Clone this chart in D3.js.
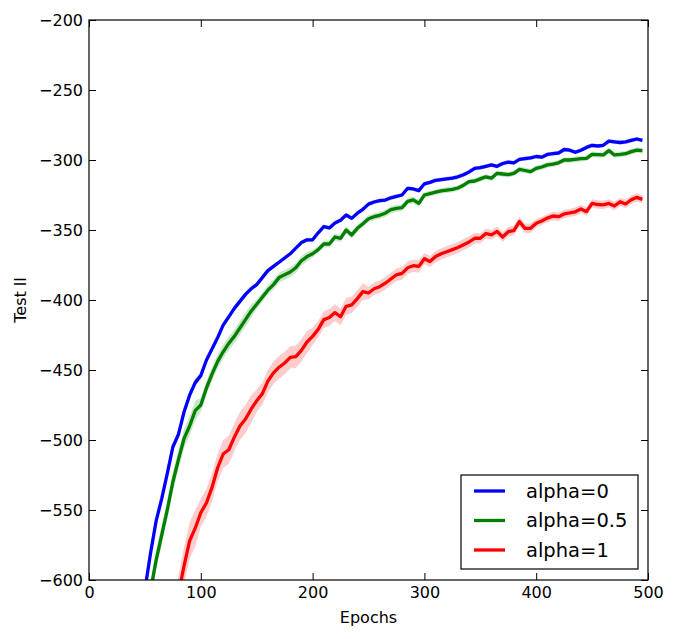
<!DOCTYPE html>
<html>
<head>
<meta charset="utf-8">
<script src="https://cdn.jsdelivr.net/npm/d3@7"></script>
<style>
  body { margin: 0; background: #fff; }
  text { font-family: "DejaVu Sans", sans-serif; }
</style>
</head>
<body>
<svg id="chart" width="676" height="639"></svg>
<script>
// epochs 40..495, every 5
const epochs = d3.range(40, 500, 5);

const alpha0 = [
  -700, -650, -607, -581, -558, -542, -524, -505, -496, -480,
  -468, -459, -454, -443, -435, -427, -418, -412, -406, -401,
  -396, -392, -389, -384, -379, -376, -373, -370, -367, -363,
  -359, -357, -357, -352, -347.6, -348.5, -345, -343, -339.3, -341.7,
  -338, -335.2, -331.5, -330, -329, -328.6, -327, -326, -325, -320.2,
  -320.7, -321.9, -317, -316, -314.5, -314, -313.5, -313, -312, -310.5,
  -308.5, -306, -305.5, -304.5, -303.5, -304.5, -302.5, -301.5, -302, -299.5,
  -299, -298.5, -297.5, -298, -296, -295.5, -295, -292.5, -293, -294.5,
  -293, -291, -289.5, -290, -289.5, -286.5, -287, -287.5, -287, -286,
  -285, -286
];

const alpha05 = [
  -760, -700, -650, -608, -586, -568, -550, -530, -514, -499,
  -490, -479, -475, -463, -453, -444, -437, -431, -426, -420,
  -414, -408, -403, -398, -393, -389, -384, -382, -380, -377,
  -372, -369, -367, -364, -360, -360, -355, -356, -350, -353.5,
  -348.8, -345.5, -342, -340.5, -339.5, -338, -335.5, -334.5, -334, -329.5,
  -328.5, -331, -325, -324, -323, -322, -321.5, -321, -320, -318,
  -315.5, -315, -313.5, -312, -313, -309.5, -310, -310.5, -309.5, -306.7,
  -307.5, -308.3, -306, -305, -303.5, -303, -302, -300, -300, -299.5,
  -299, -298.8, -296, -296.2, -296.4, -293.3, -296.4, -296, -295.5, -294,
  -293, -293.3
];

const alpha1 = [
  -860, -820, -785, -750, -720, -690, -660, -635, -610, -590,
  -572, -563, -552, -545, -534, -520, -510, -507, -498, -490,
  -485, -478, -472, -467, -458, -452, -448, -445, -441, -440.5,
  -436, -430, -426, -421, -414, -412.5, -409, -412, -404.5, -403.5,
  -399, -394, -395, -392, -390.5, -388, -385, -382, -381, -377,
  -375.5, -376, -370.5, -372.5, -369, -367, -365.5, -364, -362.5, -360.5,
  -358.5, -355.9, -355.9, -352.5, -353.5, -351, -355, -351.2, -350.5, -344,
  -348.8, -348.8, -345.2, -343.5, -341.5, -340, -340.5, -338.5, -337.8, -337,
  -335, -336.9, -331, -331.8, -332, -331, -332.9, -329.8, -331.4, -328.4,
  -326.7, -328.1
];

// half width of the shaded band, one value per 50 epochs
const spread0 = [3, 3, 2, 1.5, 1.5, 1.5, 1.5, 1.5, 1.5, 1.5];
const spread05 = [7, 7, 5, 3.5, 2.5, 2.5, 2, 2, 2, 2];
const spread1 = [13, 13, 10, 8, 6, 4.5, 4, 3.5, 3, 3];

const names = ["alpha=0", "alpha=0.5", "alpha=1"];
const colors = ["#0000ff", "#008000", "#ff0000"];
const xTicks = [0, 100, 200, 300, 400, 500];
const yTicks = [-600, -550, -500, -450, -400, -350, -300, -250, -200];

const series = [
  { name: names[0], color: colors[0], values: alpha0, spread: spread0 },
  { name: names[1], color: colors[1], values: alpha05, spread: spread05 },
  { name: names[2], color: colors[2], values: alpha1, spread: spread1 }
];

const margin = { top: 20, right: 28, bottom: 59, left: 89 };
const width = 676 - margin.left - margin.right;
const height = 639 - margin.top - margin.bottom;

const svg = d3.select("#chart");
const g = svg.append("g").attr("transform", `translate(${margin.left},${margin.top})`);

const x = d3.scaleLinear().domain([0, 500]).range([0, width]);
const y = d3.scaleLinear().domain([-600, -200]).range([height, 0]);

g.append("clipPath").attr("id", "clip")
  .append("rect").attr("width", width).attr("height", height);

const plot = g.append("g").attr("clip-path", "url(#clip)");

const line = d3.line()
  .x((d, i) => x(epochs[i]))
  .y(d => y(d));

const band = s => d3.area()
  .x((d, i) => x(epochs[i]))
  .y0((d, i) => y(d - s.spread[Math.min(9, Math.floor(epochs[i] / 50))]))
  .y1((d, i) => y(d + s.spread[Math.min(9, Math.floor(epochs[i] / 50))]));

series.forEach(s => {
  plot.append("path")
    .attr("d", band(s)(s.values))
    .attr("fill", s.color)
    .attr("fill-opacity", 0.2)
    .attr("stroke", "none");
});

series.forEach(s => {
  plot.append("path")
    .attr("d", line(s.values))
    .attr("fill", "none")
    .attr("stroke", s.color)
    .attr("stroke-width", 3.3)
    .attr("stroke-linejoin", "round");
});

// axes, ticks pointing inwards on all four sides
const fmt = d3.format("d");

g.append("g")
  .attr("transform", `translate(0,${height})`)
  .call(d3.axisBottom(x).tickValues(xTicks).tickFormat(fmt).tickSizeInner(-7).tickSizeOuter(0).tickPadding(7));

g.append("g")
  .call(d3.axisLeft(y).tickValues(yTicks).tickFormat(fmt).tickSizeInner(-7).tickSizeOuter(0).tickPadding(6));

g.append("g")
  .call(d3.axisTop(x).tickValues(xTicks).tickFormat("").tickSizeInner(-7).tickSizeOuter(0));

g.append("g")
  .attr("transform", `translate(${width},0)`)
  .call(d3.axisRight(y).tickValues(yTicks).tickFormat("").tickSizeInner(-7).tickSizeOuter(0));

g.selectAll(".domain").remove();
g.selectAll(".tick line").attr("stroke", "#000").attr("stroke-width", 1);
g.selectAll(".tick text").attr("font-size", 16).attr("fill", "#000")
  .attr("font-family", "DejaVu Sans");

g.append("rect")
  .attr("width", width)
  .attr("height", height)
  .attr("fill", "none")
  .attr("stroke", "#000")
  .attr("stroke-width", 1.2);

// axis labels
svg.append("text")
  .attr("x", margin.left + width / 2)
  .attr("y", 623)
  .attr("text-anchor", "middle")
  .attr("font-size", 16)
  .text("Epochs");

svg.append("text")
  .attr("transform", `translate(26,${margin.top + height / 2}) rotate(-90)`)
  .attr("text-anchor", "middle")
  .attr("font-size", 16)
  .text("Test ll");

// legend
const legend = svg.append("g").attr("transform", "translate(461,475)");
legend.append("rect")
  .attr("width", 177)
  .attr("height", 94)
  .attr("fill", "#fff")
  .attr("stroke", "#000")
  .attr("stroke-width", 1.2);

series.forEach((s, i) => {
  const row = legend.append("g").attr("transform", `translate(0,${16 + i * 29.5})`);
  row.append("line")
    .attr("x1", 13).attr("x2", 44)
    .attr("stroke", s.color)
    .attr("stroke-width", 3.3);
  row.append("text")
    .attr("x", 65)
    .attr("dy", "0.35em")
    .attr("font-size", 19.5)
    .text(s.name);
});
</script>
</body>
</html>
